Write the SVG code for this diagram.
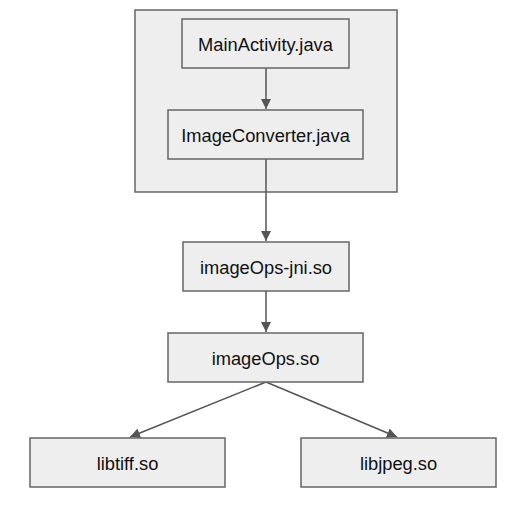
<svg xmlns="http://www.w3.org/2000/svg" width="522" height="515" viewBox="0 0 522 515">
<style>
.box{fill:#eeeeee;stroke:#666666;stroke-width:1.5}
.lbl{font-family:"Liberation Sans",Arial,sans-serif;font-size:18.3px;fill:#111111;text-anchor:middle;dominant-baseline:central}
.edge{stroke:#555555;stroke-width:1.5;fill:none}
</style>
<defs>
<marker id="arr" viewBox="0 0 10 10" refX="10" refY="5" markerWidth="10" markerHeight="10" markerUnits="userSpaceOnUse" orient="auto">
<path d="M0,0 L10,5 L0,10 z" fill="#555555"/>
</marker>
</defs>
<rect x="0" y="0" width="522" height="515" fill="#ffffff"/>
<g id="cluster"><rect class="box" x="135" y="10" width="262" height="182"/></g>
<g id="connectors">
<line class="edge" x1="266" y1="68" x2="266" y2="109" marker-end="url(#arr)"/>
<line class="edge" x1="266" y1="159" x2="266" y2="241" marker-end="url(#arr)"/>
<line class="edge" x1="266" y1="291" x2="266" y2="332" marker-end="url(#arr)"/>
<line class="edge" x1="266" y1="382" x2="130" y2="437" marker-end="url(#arr)"/>
<line class="edge" x1="266" y1="382" x2="397" y2="437" marker-end="url(#arr)"/>
</g>
<g id="MainActivity"><rect class="box" x="182" y="19" width="167" height="49"/><text class="lbl" x="265.5" y="44">MainActivity.java</text></g>
<g id="ImageConverter"><rect class="box" x="168" y="110" width="195" height="49"/><text class="lbl" x="265.5" y="135">ImageConverter.java</text></g>
<g id="imageOpsJni"><rect class="box" x="183" y="242" width="166" height="49"/><text class="lbl" x="266" y="267">imageOps-jni.so</text></g>
<g id="imageOps"><rect class="box" x="168" y="333" width="195" height="49"/><text class="lbl" x="265.5" y="358">imageOps.so</text></g>
<g id="libtiff"><rect class="box" x="30" y="438" width="195" height="49"/><text class="lbl" x="127.5" y="463">libtiff.so</text></g>
<g id="libjpeg"><rect class="box" x="301" y="438" width="195" height="49"/><text class="lbl" x="398.5" y="463">libjpeg.so</text></g>
</svg>
